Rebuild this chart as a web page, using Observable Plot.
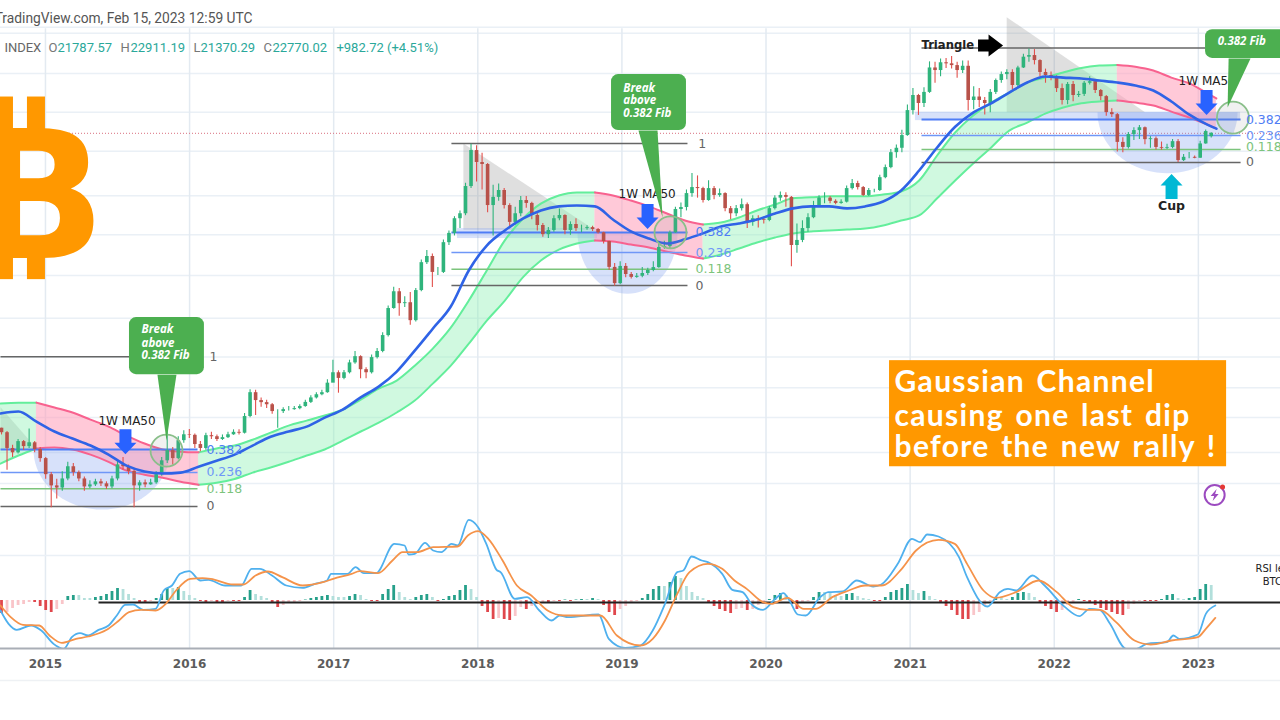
<!DOCTYPE html>
<html><head><meta charset="utf-8">
<script src="https://cdn.jsdelivr.net/npm/d3@7"></script>
<script src="https://cdn.jsdelivr.net/npm/@observablehq/plot@0.6"></script>
<style>html,body{margin:0;padding:0;background:#fff;overflow:hidden}svg{display:block}.banner text{letter-spacing:1.3px;word-spacing:3px}</style>
</head><body>
<script>
// ---- candles (two-week steps, prices in USD) ----
const candleStart = 2014.695, candleStep = 0.03833;
const closes = [443,360,340,394,369,388,355,315,255,220,214,241,283,262,241,217,223,232,226,217,241,290,283,266,220,229,223,229,255,306,350,315,399,431,428,379,360,426,420,405,415,431,445,440,548,750,676,658,640,585,585,600,600,608,625,660,700,730,750,850,975,905,975,1110,1205,1015,975,1190,1290,1590,2270,2830,2420,2450,1935,2875,4150,4500,3650,3650,5400,6100,7400,7900,11300,18150,15500,15100,8800,9800,10730,8800,7050,7900,9400,9050,7720,6770,6000,6340,7400,7720,6340,6860,6500,6500,6580,6420,6150,5480,3900,3150,3950,3550,3420,3470,3600,3745,3890,5070,5130,6150,8350,8580,10300,11150,11000,9400,11000,10050,10300,8450,7900,8450,8900,7050,7400,7300,7230,8450,9700,10050,9800,5200,5560,6500,7500,8800,9700,9700,9300,9050,9200,11000,11750,11150,10050,10730,10730,12700,14500,17650,18700,22100,30700,37450,33700,39000,53800,52000,57600,56800,55500,52000,55000,35050,36700,35050,33700,39000,45600,49300,50700,42700,53800,62000,63350,59300,50700,48700,48000,41000,35050,43300,37450,38000,44000,44900,40000,36900,29900,29100,20200,18900,22400,23600,24500,20950,21200,18900,18700,18900,20400,15900,16600,16600,16400,19800,23300,22770];
const highs = [470,450,375,405,400,465,395,365,320,262,240,265,300,295,268,247,235,240,240,232,250,305,320,290,272,235,238,240,265,320,486,365,420,455,462,435,395,440,445,430,430,445,460,460,570,780,775,700,680,650,600,615,625,625,640,680,720,750,775,890,1150,1000,1005,1150,1290,1220,1040,1230,1340,1650,2350,3000,2950,2650,2800,2950,4300,4870,4650,3900,5600,6300,7600,8200,11800,19700,19300,17500,15300,11500,11700,11000,9000,8600,9900,9900,9200,7900,6950,6600,7700,8400,7800,7100,7400,6800,6750,6700,6500,6200,5500,4100,4200,4100,3650,3600,3900,3850,4200,5300,5500,6300,8600,9100,10800,13400,13000,11200,12200,11300,10950,10400,8700,8800,9600,9100,7700,7700,7500,8700,10000,10500,10400,9900,6900,7200,7900,9300,10000,10400,9900,9500,9500,11400,12400,12100,11300,11000,10900,13100,15000,18400,19500,23700,33000,41000,38000,41500,58300,58000,60500,61000,62500,58000,59000,59000,42000,41000,36500,40500,46500,51000,52500,52500,55000,64500,69000,68500,60000,53000,51000,48500,43500,44500,45000,39500,45000,48000,45500,40500,37500,31500,29500,21500,23000,24500,25200,24700,21800,21700,20300,19700,21000,21000,17200,17700,16900,20500,23800,22911];
const lows = [430,270,320,335,350,360,340,300,240,165,185,205,235,250,232,205,212,218,218,210,212,235,270,255,165,205,215,222,225,250,295,290,310,385,410,360,345,352,405,395,400,410,428,430,435,540,555,620,610,565,470,570,590,595,600,620,650,690,720,745,860,745,890,960,1090,900,900,960,1170,1270,1560,2250,2050,2300,1820,1900,2830,4050,2990,3500,3600,5200,5900,6500,7700,11000,12000,10800,8000,5900,9300,8400,6500,6800,7600,8500,7300,6300,5800,5700,6200,7200,6000,5950,6250,6150,6350,6250,6050,5300,3750,3050,3100,3400,3350,3380,3400,3500,3680,3850,4950,5000,6100,7500,8200,9800,9700,9100,9300,9500,9800,8100,7300,7600,8200,6500,6700,6550,6900,7100,8300,9300,8600,3930,4700,5400,6200,7400,8600,9000,9000,8900,8950,9100,10800,10800,9900,9900,10400,10600,12500,14300,16400,17600,21900,29000,28800,32000,38500,44000,48000,53500,53000,47000,50000,30500,31000,32000,29000,29800,38000,44000,46000,40500,42000,53500,58000,56000,48000,44000,45500,39000,33000,33200,34500,36500,37000,43000,38500,35000,28500,28000,17800,17600,18500,20700,21000,19600,18700,18300,18200,18400,18600,15500,15700,16300,16300,16400,19700,21370];

// ---- Gaussian channel and 1W MA50 (one point every eighth of a year) ----
const bandStart = 2014.6875, bandStep = 0.125, bandEnd = 2023.125;
const channelUpper = [650,658,658,617,578,526,480,426,384,355,345,342,360,374,404,443,486,519,555,600,685,790,880,1070,1340,1765,2520,3745,5560,7400,9030,10050,10460,10460,10050,9400,8700,7930,7230,6860,7040,7520,8250,8920,9680,9800,9930,9930,9930,10180,10590,12230,17000,23000,28770,34100,38900,44400,47400,50700,53800,55500,56000,54700,52000,47400,43900,38500,36000];
const channelLower = [295,328,360,365,355,332,302,269,255,245,232,223,229,241,262,280,302,328,355,399,450,505,578,676,845,1070,1430,1935,2520,3420,4270,4930,5340,5560,5480,5270,5070,4800,4560,4380,4620,5000,5410,5780,6100,6260,6340,6420,6500,6770,7230,7720,9680,12230,15300,18900,23600,26200,29500,32000,33800,34600,35050,34100,32830,30300,28000,25500,24200];
const ma50 = [570,585,512,450,410,374,332,287,266,259,262,283,306,332,374,420,450,480,540,600,705,812,990,1304,1740,2330,3745,5200,6340,7400,8250,8700,8800,8700,7320,6260,5700,5340,5640,6100,6680,6950,7320,7930,8480,8700,8700,8480,8700,9280,10730,13950,18900,24800,29900,33800,38900,44400,48100,47400,46800,45600,44400,42700,40000,34600,29100,25500,24200];
const pinkSpans = [[2,11],[33,39],[62,68]];
const greenSpans = [[0,2],[11,33],[39,62]];

// ---- Fibonacci levels ----
const fibColors = {"1":"#666","0.382":"#4f7df5","0.236":"#6f97f7","0.118":"#7cc47c","0":"#666"};
const fibLevels = [
 {x1:2014.688,x2:2015.59,p:1205,k:"1"},{x1:2014.688,x2:2016.055,p:355,k:"0.382"},{x1:2014.688,x2:2016.055,p:262,k:"0.236"},{x1:2014.688,x2:2016.055,p:212,k:"0.118"},{x1:2014.688,x2:2016.055,p:168,k:"0"},
 {x1:2017.817,x2:2019.455,p:19900,k:"1"},{x1:2017.817,x2:2019.455,p:6180,k:"0.382"},{x1:2017.817,x2:2019.455,p:4740,k:"0.236"},{x1:2017.817,x2:2019.455,p:3800,k:"0.118"},{x1:2017.817,x2:2019.455,p:3070,k:"0"},
 {x1:2021.079,x2:2023.05,p:69900,k:"1"},{x1:2021.079,x2:2023.293,p:27300,k:"0.382"},{x1:2021.079,x2:2023.293,p:22100,k:"0.236"},{x1:2021.079,x2:2023.293,p:18400,k:"0.118"},{x1:2021.079,x2:2023.293,p:15500,k:"0"}];
const fibLabels = [
 {x:2016.138,p:1205,k:"1"},{x:2016.117,p:355,k:"0.382"},{x:2016.117,p:265,k:"0.236"},{x:2016.117,p:212,k:"0.118"},{x:2016.117,p:168,k:"0"},
 {x:2019.53,p:19900,k:"1"},{x:2019.511,p:6250,k:"0.382"},{x:2019.511,p:4740,k:"0.236"},{x:2019.511,p:3800,k:"0.118"},{x:2019.511,p:3070,k:"0"},
 {x:2023.33,p:27300,k:"0.382"},{x:2023.33,p:22100,k:"0.236"},{x:2023.33,p:18900,k:"0.118"},{x:2023.33,p:15700,k:"0"}];
const fibBands = [{x1:2017.859,x2:2018.831,p1:5700,p2:6500},{x1:2021.037,x2:2023.293,p1:26900,p2:30000}];
const triangles = [[[2014.688,620],[2014.945,355],[2014.688,355]],[[2017.9,19900],[2017.9,6400],[2018.81,6400]],[[2021.67,105000],[2021.67,30000],[2022.63,30000]]];
const cups = [[2014.917,2015.867,355,161],[2018.692,2019.386,6180,2760],[2022.3,2023.272,30000,13480]];
const rings = [{x:2015.84,p:350},{x:2019.337,p:6180},{x:2023.24,p:28000}];

// ---- callouts ----
const callouts = [{x1:2015.583,x2:2016.103,p1:951,p2:2015},{x1:2018.928,x2:2019.448,p1:23600,p2:49300},{x1:2023.05,x2:2023.7,p1:61000,p2:89000}];
const tails = [[[2015.777,951],[2015.909,951],[2015.84,399]],[[2019.115,23600],[2019.247,23600],[2019.282,7520]],[[2023.21,61000],[2023.362,61000],[2023.203,32000]]];
const calloutText = [{x:2015.667,p:1720,t:"Break"},{x:2015.667,p:1445,t:"above"},{x:2015.667,p:1225,t:"0.382 Fib"},
 {x:2019.01,p:41400,t:"Break"},{x:2019.01,p:35000,t:"above"},{x:2019.01,p:29600,t:"0.382 Fib"},{x:2023.135,p:76000,t:"0.382 Fib"}];

// ---- MACD panel ----
const histogram = [-13,-12,-8,-5,-4,-2,-2,-6,-10,-12,-9,-4,4,5,5,2,2,3,4,6,9,12,11,6,2,-2,-2,-1,2,6,12,12,13,9,5,2,-1,-2,-1,-2,-2,-1,-1,-1,3,10,6,4,2,-3,-7,-5,-3,-2,-1,0.5,2,3,4,5,4,3,3,4,6,5,1,-1,-1,6,11,15,8,3,1,3,5,6,3,-1,1,4,5,10,15,11,3,-6,-12,-19,-18,-19,-20,-16,-7,-9,-6,-4,-2,-2,-1,-1,0.5,-1,0.5,1,1,2,1,-5,-12,-15,-9,-6,-3,-1,2,6,11,14,14,18,24,22,14,8,4,2,-3,-6,-9,-11,-13,-9,-8,-10,-9,-5,-4,1,5,7,5,-4,-9,-3,-1,3,8,8,7,5,4,6,7,4,2,1,-1,-1,3,8,10,12,16,10,7,9,4,1,-2,-6,-10,-15,-19,-19,-15,-12,-6,-1,3,3,1,3,7,8,7,3,-2,-6,-9,-12,-10,-5,-2,1,-1,-3,-5,-8,-10,-12,-14,-15,-9,-4,-1,-1,-1,-1,1,5,6,2,1,2,3,11,16,15];
const macdYears = [2014.688,2014.744,2014.801,2014.9,2014.971,2015.056,2015.127,2015.183,2015.24,2015.297,2015.368,2015.438,2015.495,2015.552,2015.608,2015.679,2015.764,2015.821,2015.878,2015.934,2015.997,2016.076,2016.132,2016.246,2016.359,2016.43,2016.487,2016.572,2016.671,2016.784,2016.869,2016.954,2016.982,2017.096,2017.152,2017.209,2017.294,2017.421,2017.492,2017.52,2017.563,2017.634,2017.69,2017.747,2017.818,2017.86,2017.937,2018.002,2018.059,2018.13,2018.158,2018.257,2018.342,2018.427,2018.512,2018.569,2018.626,2018.838,2018.909,2019.022,2019.129,2019.214,2019.299,2019.384,2019.426,2019.483,2019.554,2019.596,2019.696,2019.766,2019.837,2019.908,2019.979,2020.064,2020.12,2020.163,2020.22,2020.276,2020.375,2020.432,2020.531,2020.63,2020.744,2020.8,2020.914,2021.013,2021.069,2021.118,2021.197,2021.339,2021.395,2021.537,2021.622,2021.679,2021.735,2021.849,2021.933,2022.075,2022.174,2022.245,2022.316,2022.387,2022.5,2022.571,2022.642,2022.783,2022.826,2022.868,2022.996,2023.052,2023.118];
const macdLine = [-0.2,-0.467,-0.587,-0.5,-0.6,-0.867,-0.967,-0.733,-0.653,-0.7,-0.587,-0.5,-0.3,-0.087,-0.08,-0.187,-0.167,0.2,0.3,0.533,0.587,0.4,0.413,0.3,0.3,0.633,0.633,0.5,0.3,0.253,0.333,0.4,0.533,0.533,0.667,0.547,0.547,1.133,1.1,0.92,0.933,1.153,1.0,0.967,1.133,1.1,1.613,1.467,1.133,0.613,0.567,0.033,0.067,-0.2,-0.4,-0.3,-0.333,-0.28,-0.767,-0.947,-0.9,-0.6,-0.067,0.567,0.6,0.88,0.8,0.767,0.533,0.213,0.167,-0.1,-0.187,0.033,0.147,0,-0.28,-0.3,0.067,0.167,0.18,0.4,0.28,0.32,0.733,1.233,1.167,1.32,1.28,0.867,0.467,-0.12,0.167,0.233,0.2,0.5,0.3,-0.133,-0.313,-0.167,-0.187,-0.467,-0.967,-0.967,-0.867,-0.833,-0.7,-0.767,-0.68,-0.267,-0.1];
const signalYears = [2014.688,2014.759,2014.844,2014.957,2015.028,2015.113,2015.212,2015.297,2015.425,2015.51,2015.58,2015.665,2015.764,2015.835,2015.906,2016.005,2016.09,2016.147,2016.303,2016.374,2016.458,2016.543,2016.643,2016.784,2016.926,2016.997,2017.124,2017.181,2017.308,2017.408,2017.478,2017.577,2017.691,2017.86,2017.931,2018.002,2018.073,2018.172,2018.271,2018.371,2018.484,2018.597,2018.852,2018.965,2019.129,2019.214,2019.299,2019.384,2019.469,2019.596,2019.696,2019.781,2019.866,2019.979,2020.036,2020.149,2020.262,2020.347,2020.46,2020.574,2020.687,2020.8,2020.942,2021.041,2021.197,2021.31,2021.395,2021.509,2021.594,2021.735,2021.891,2022.018,2022.132,2022.231,2022.316,2022.429,2022.557,2022.67,2022.812,2022.996,2023.052,2023.118];
const signalLine = [-0.1,-0.333,-0.487,-0.5,-0.7,-0.847,-0.767,-0.72,-0.587,-0.4,-0.233,-0.187,-0.2,-0.067,0.2,0.433,0.447,0.433,0.32,0.32,0.5,0.58,0.467,0.3,0.367,0.433,0.533,0.587,0.547,0.8,0.967,0.967,1.067,1.08,1.3,1.387,1.233,0.8,0.3,0.1,-0.2,-0.3,-0.3,-0.7,-0.9,-0.767,-0.4,0.133,0.567,0.733,0.633,0.4,0.233,-0.033,-0.067,0.053,-0.167,-0.167,0.067,0.2,0.3,0.3,0.633,1.0,1.213,1.133,0.733,0.2,0.053,0.167,0.4,0.167,-0.133,-0.187,-0.187,-0.433,-0.8,-0.88,-0.8,-0.733,-0.567,-0.347];

// ---- axes and grid ----
const yearTicks = [2015,2016,2017,2018,2019,2020,2021,2022,2023];
const priceGrid = [92000,85000,50000,30000,18000,10000,6000,3500,2000,1200,800,541,341,227];
const xDomain = [2014.688, 2023.57];
const lastPrice = 22770.02;

// ---- text ----
const font = '"DejaVu Sans", sans-serif';
const quote = [
 {x:2014.715,t:"INDEX",c:"#666"},{x:2015.021,t:"O",c:"#777"},{x:2015.083,t:"21787.57",c:"#2aa89a"},
 {x:2015.52,t:"H",c:"#777"},{x:2015.59,t:"22911.19",c:"#2aa89a"},{x:2016.027,t:"L",c:"#777"},{x:2016.076,t:"21370.29",c:"#2aa89a"},
 {x:2016.513,t:"C",c:"#777"},{x:2016.575,t:"22770.02",c:"#2aa89a"},{x:2017.019,t:"+982.72 (+4.51%)",c:"#2aa89a"}];
const maLabels = [{x:2015.576,p:519},{x:2019.185,p:10180},{x:2023.071,p:45000}];
const maArrows = [{x:2015.555,p:393},{x:2019.178,p:7620},{x:2023.057,p:34100}];
const bannerLines = [{p:855,t:"Gaussian Channel"},{p:549,t:"causing one last dip"},{p:365,t:"before the new rally !"}];
const coinStems = [{x1:2014.688,x2:2014.778,p1:20000,p2:36700},{x1:2014.875,x2:2015,p1:20000,p2:36700},{x1:2014.688,x2:2014.778,p1:3320,p2:5200},{x1:2014.875,x2:2015,p1:3320,p2:5200}];

// ---- derived tables ----
const candles = closes.map((c,i)=>({x:candleStart+i*candleStep,o:i?closes[i-1]:470,c,h:highs[i],l:lows[i]}));
candles[candles.length-1].o = 21787.57;
const up = "#2fb47c", dn = "#e2504c";
const bandYears = channelUpper.map((_,i)=> i===68 ? bandEnd+0.0 : bandStart+i*bandStep);
const band = channelUpper.map((u,i)=>({x:bandYears[i],u,l:channelLower[i],m:ma50[i]}));
const hist = histogram.map((v,i)=>({x:candleStart+i*candleStep,v:v*0.02,rise:i?v>histogram[i-1]:false}));
const histColor = d => d.v>=0 ? (d.rise?"#26a08a":"#b2dfdb") : (d.rise?"#f9c5c9":"#e0474c");
const cupPts = ([a,b,t,bt],k)=>d3.range(0,41).map(j=>{const th=Math.PI*j/40;return {x:(a+b)/2+(b-a)/2*Math.cos(th),p:Math.exp(Math.log(t)+(Math.log(bt)-Math.log(t))*Math.sin(th)),k};});
const polyRows = polys => polys.flatMap((pts,k)=>pts.map(([x,p])=>({x,p,k})));

// ---- custom marker symbols ----
const arrowDown={draw(c){c.moveTo(-6,-12.5);c.lineTo(6,-12.5);c.lineTo(6,1);c.lineTo(11,1);c.lineTo(0,12.5);c.lineTo(-11,1);c.lineTo(-6,1);c.closePath();}};
const arrowUp={draw(c){c.moveTo(-6,12.5);c.lineTo(6,12.5);c.lineTo(6,-1);c.lineTo(11,-1);c.lineTo(0,-12.5);c.lineTo(-11,-1);c.lineTo(-6,-1);c.closePath();}};
const arrowRight={draw(c){c.moveTo(-12.5,-6);c.lineTo(-2,-6);c.lineTo(-2,-11);c.lineTo(12.5,0);c.lineTo(-2,11);c.lineTo(-2,6);c.lineTo(-12.5,6);c.closePath();}};
const bolt={draw(c){c.moveTo(2,-6);c.lineTo(-4,1);c.lineTo(-0.5,1);c.lineTo(-2,6);c.lineTo(4,-1);c.lineTo(0.5,-1);c.closePath();}};
const smooth = "monotone-x";

const main = Plot.plot({
  width:1280,height:515,margin:0,
  style:{background:"#fff",fontFamily:font,overflow:"hidden"},
  x:{domain:xDomain,range:[0,1280],axis:null},
  y:{type:"log",domain:[149,130700],range:[515,0],axis:null},
  marks:[
    Plot.ruleY(priceGrid,{stroke:"#eaf0f6",strokeWidth:1.5}),
    Plot.ruleX(yearTicks,{stroke:"#e3eaf1",strokeWidth:1.5,y1:149,y2:90000}),
    Plot.ruleY([lastPrice],{stroke:"#d9707f",strokeWidth:1,strokeDasharray:"1,2"}),
    Plot.line(polyRows(triangles),{x:"x",y:"p",z:"k",fill:"#8a8a8a",fillOpacity:0.27,stroke:"none"}),
    cups.map((c,k)=>Plot.line(cupPts(c,k),{x:"x",y:"p",fill:"#7c9cf0",fillOpacity:0.3,stroke:"none"})),
    Plot.rect(fibBands,{x1:"x1",x2:"x2",y1:"p1",y2:"p2",fill:"#7c9cf0",fillOpacity:0.3}),
    greenSpans.map(([a,b])=>Plot.area(band.slice(a,b+1),{x1:"x",y1:"l",y2:"u",fill:"#8ff0b5",fillOpacity:0.42,curve:smooth})),
    pinkSpans.map(([a,b])=>Plot.area(band.slice(a,b+1),{x1:"x",y1:"l",y2:"u",fill:"#ff9cb8",fillOpacity:0.55,curve:smooth})),
    greenSpans.map(([a,b])=>[Plot.line(band.slice(a,b+1),{x:"x",y:"u",stroke:"#63ee9b",strokeWidth:2,curve:smooth}),Plot.line(band.slice(a,b+1),{x:"x",y:"l",stroke:"#63ee9b",strokeWidth:2,curve:smooth})]),
    pinkSpans.map(([a,b])=>[Plot.line(band.slice(a,b+1),{x:"x",y:"u",stroke:"#f8628f",strokeWidth:2,curve:smooth}),Plot.line(band.slice(a,b+1),{x:"x",y:"l",stroke:"#f8628f",strokeWidth:2,curve:smooth})]),
    Plot.link(fibLevels,{x1:"x1",x2:"x2",y1:"p",y2:"p",stroke:d=>fibColors[d.k],strokeWidth:d=>d.k==="0.382"?2:1.5}),
    Plot.ruleX(candles,{x:"x",y1:"l",y2:"h",stroke:d=>d.c>=d.o?up:dn,strokeWidth:1.1}),
    Plot.ruleX(candles,{x:"x",y1:"o",y2:"c",stroke:d=>d.c>=d.o?up:"#b8524a",strokeWidth:3.6}),
    Plot.line(band,{x:"x",y:"m",stroke:"#2f63e6",strokeWidth:2.6,curve:smooth}),
    Plot.dot(rings,{x:"x",y:"p",r:16,stroke:"#8abf8a",strokeWidth:1.8,fill:"#8a8a8a",fillOpacity:0.12}),
    Plot.text(maLabels,{x:"x",y:"p",text:()=>"1W MA50",fontSize:12,fill:"#222",textAnchor:"start",dx:-30}),
    Plot.dot(maArrows,{x:"x",y:"p",symbol:arrowDown,fill:"#2962ff",stroke:"none"}),
    Plot.dot([{x:2021.558,p:72300}],{x:"x",y:"p",symbol:arrowRight,fill:"#000",stroke:"none"}),
    Plot.dot([{x:2022.814,p:11300}],{x:"x",y:"p",symbol:arrowUp,fill:"#00b8d4",stroke:"none"}),
    Plot.text([{x:2021.079,p:69900,t:"Triangle"}],{x:"x",y:"p",text:"t",fontSize:11.6,fontWeight:600,fill:"#222",textAnchor:"start",dy:-3}),
    Plot.text([{x:2022.814,p:7720,t:"Cup"}],{x:"x",y:"p",text:"t",fontSize:12.5,fontWeight:600,fill:"#222",dy:-9}),
    Plot.line(polyRows(tails),{x:"x",y:"p",z:"k",fill:"#4caf50",stroke:"none"}),
    Plot.rect(callouts,{x1:"x1",x2:"x2",y1:"p1",y2:"p2",fill:"#4caf50",rx:7}),
    Plot.text(calloutText,{x:"x",y:"p",text:"t",fill:"#fff",fontSize:11.5,fontStyle:"italic",fontWeight:"bold",textAnchor:"start",fontFamily:'"Open Sans", sans-serif'}),
    Plot.text(fibLabels,{x:"x",y:"p",text:"k",fill:d=>fibColors[d.k],fontSize:12.5,textAnchor:"start"}),
    Plot.rect(coinStems,{x1:"x1",x2:"x2",y1:"p1",y2:"p2",fill:"#ff9800"}),
    Plot.text(["B"],{x:()=>2015.42,y:()=>9400,text:d=>d,fill:"#ff9800",fontSize:178,fontWeight:"bold",textAnchor:"end",fontFamily:'"DejaVu Sans"'}),
    Plot.rect([{x1:2020.857,x2:2023.196,p1:283,p2:1143}],{x1:"x1",x2:"x2",y1:"p1",y2:"p2",fill:"#ff9800"}),
    Plot.text(bannerLines,{x:()=>2020.892,y:"p",text:"t",fill:"#fff",fontSize:30,fontWeight:"bold",textAnchor:"start",fontFamily:"Lato",className:"banner"}),
    Plot.dot([{x:2023.113,p:195}],{x:"x",y:"p",r:10,stroke:"#9c4bc0",strokeWidth:2,fill:"none"}),
    Plot.dot([{x:2023.113,p:195}],{x:"x",y:"p",symbol:bolt,fill:"#9c4bc0",stroke:"none"}),
    Plot.dot([{x:2023.168,p:217}],{x:"x",y:"p",r:2.5,fill:"#e53935",stroke:"none"}),
    Plot.text(["TradingView.com, Feb 15, 2023 12:59 UTC"],{x:()=>2016.437,y:()=>103200,text:d=>d,textAnchor:"end",fontSize:13.8,fill:"#555",fontFamily:"Roboto"}),
    Plot.text(quote,{x:"x",y:()=>69900,text:"t",fill:"c",textAnchor:"start",fontSize:13,fontFamily:"Roboto"})
  ]
});

const panel = Plot.plot({
  width:1280,height:205,marginLeft:0,marginRight:0,marginTop:0,marginBottom:72,
  style:{background:"#fff",fontFamily:font,overflow:"hidden"},
  x:{domain:xDomain,range:[0,1280],axis:null},
  y:{domain:[-0.96,1.7],axis:null},
  marks:[
    Plot.ruleX(yearTicks,{stroke:"#e3eaf1",strokeWidth:1.5}),
    Plot.ruleY([0.9],{stroke:"#eaf0f6",strokeWidth:1.5}),
    Plot.ruleX(hist,{x:"x",y1:()=>0,y2:"v",stroke:histColor,strokeWidth:2.8}),
    Plot.link([{x1:2015.368,x2:2023.57,v:-0.04}],{x1:"x1",x2:"x2",y1:"v",y2:"v",stroke:"#222",strokeWidth:2.2}),
    Plot.line(macdYears.map((x,i)=>({x,v:macdLine[i]})),{x:"x",y:"v",stroke:"#4fb0ee",strokeWidth:1.8,clip:true,curve:smooth}),
    Plot.line(signalYears.map((x,i)=>({x,v:signalLine[i]})),{x:"x",y:"v",stroke:"#f5934a",strokeWidth:1.8,clip:true,curve:smooth}),
    Plot.ruleY([-0.96],{stroke:"#a9aeb6",strokeWidth:2}),
    Plot.ruleY([-1.6],{stroke:"#eef1f4",strokeWidth:1.5}),
    Plot.text([{x:2023.397,v:0.64,t:"RSI le"},{x:2023.446,v:0.38,t:"BTC"}],{x:"x",y:"v",text:"t",fontSize:10,fill:"#222",textAnchor:"start"}),
    Plot.axisX(yearTicks,{tickSize:0,tickPadding:11,tickFormat:"d",fontSize:12,fontWeight:"bold",fill:"#5c5c5c",label:null,anchor:"bottom"})
  ]
});
document.body.append(main, panel);
</script>
</body></html>
